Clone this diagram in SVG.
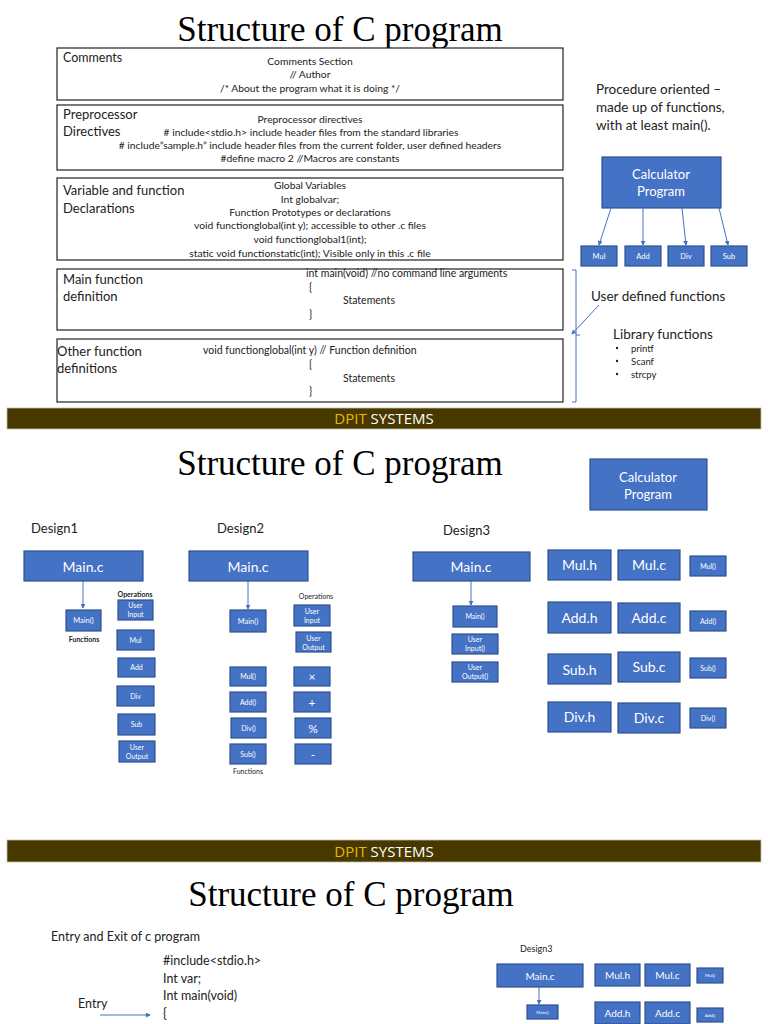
<svg xmlns="http://www.w3.org/2000/svg" width="768" height="1024" viewBox="0 0 768 1024">
<defs>
<marker id="ah" viewBox="0 0 6 6" refX="5" refY="3" markerWidth="5" markerHeight="5" orient="auto"><path d="M0,0 L6,3 L0,6 z" fill="#4472C4"/></marker>
<style>
.title{font-family:"Liberation Serif",serif;font-size:35px;fill:#000}
.t{font-family:Lato,"Open Sans",sans-serif;fill:#222}
.sec{fill:#fff;stroke:#222;stroke-width:1.2}
.b{fill:#4472C4;stroke:#2F528F;stroke-width:1.2}
.w{font-family:Lato,"Open Sans",sans-serif;fill:#fff;text-anchor:middle}
.c{text-anchor:middle}
.ln{stroke:#4472C4;stroke-width:1;fill:none}
.ban{fill:#473800;stroke:#c8c0a0;stroke-width:0.8}
.bt{font-family:"Open Sans",sans-serif;font-size:15px;text-anchor:middle}
</style>
</defs>
<rect width="768" height="1024" fill="#fff"/>

<!-- ===== Section 1 ===== -->
<text class="title" x="340" y="41" text-anchor="middle">Structure of C program</text>

<g id="comments">
<rect class="sec" x="57" y="48" width="506" height="52"/>
<text class="t" x="63" y="62" font-size="12.5">Comments</text>
<text class="t c" x="310" y="65" font-size="10.3">Comments Section</text>
<text class="t c" x="310" y="78" font-size="10.3">// Author</text>
<text class="t c" x="310" y="92" font-size="10.3">/* About the program what it is doing */</text>
</g>

<g id="preprocessor">
<rect class="sec" x="57" y="105" width="506" height="65"/>
<text class="t" x="63" y="119" font-size="13">Preprocessor</text>
<text class="t" x="63" y="136" font-size="13">Directives</text>
<text class="t c" x="310" y="123" font-size="10.3">Preprocessor directives</text>
<text class="t c" x="311" y="136" font-size="10.3"># include&lt;stdio.h&gt; include header files from the standard libraries</text>
<text class="t c" x="310" y="149" font-size="10.3"># include”sample.h” include header files from the current folder, user defined headers</text>
<text class="t c" x="310" y="162" font-size="10.3">#define macro 2 //Macros are constants</text>
</g>

<g id="declarations">
<rect class="sec" x="57" y="178" width="506" height="82"/>
<text class="t" x="63" y="195" font-size="13">Variable and function</text>
<text class="t" x="63" y="213" font-size="13">Declarations</text>
<text class="t c" x="310" y="189" font-size="10.3">Global Variables</text>
<text class="t c" x="310" y="203" font-size="10.3">Int globalvar;</text>
<text class="t c" x="310" y="216" font-size="10.3">Function Prototypes or declarations</text>
<text class="t c" x="310" y="229" font-size="10.3">void functionglobal(int y); accessible to other .c files</text>
<text class="t c" x="310" y="243" font-size="10.3">void functionglobal1(int);</text>
<text class="t c" x="310" y="257" font-size="10.3">static void functionstatic(int); Visible only in this .c file</text>
</g>

<g id="main-def">
<rect class="sec" x="57" y="269" width="506" height="61"/>
<text class="t" x="63" y="284" font-size="13">Main function</text>
<text class="t" x="63" y="301" font-size="13">definition</text>
<text class="t" x="306" y="277" font-size="10.5">int main(void) //no command line arguments</text>
<text class="t" x="309" y="291" font-size="10.5">{</text>
<text class="t" x="343" y="304" font-size="10.5">Statements</text>
<text class="t" x="309" y="318" font-size="10.5">}</text>
</g>

<g id="other-def">
<rect class="sec" x="57" y="339" width="506" height="63"/>
<text class="t" x="57" y="356" font-size="13">Other function</text>
<text class="t" x="57" y="373" font-size="13">definitions</text>
<text class="t" x="203" y="354" font-size="10.5">void functionglobal(int y) // Function definition</text>
<text class="t" x="309" y="368" font-size="10.5">{</text>
<text class="t" x="343" y="382" font-size="10.5">Statements</text>
<text class="t" x="309" y="395" font-size="10.5">}</text>
</g>

<g id="procedure-note">
<text class="t" x="596" y="94" font-size="13.5">Procedure oriented –</text>
<text class="t" x="596" y="112" font-size="13.5">made up of functions,</text>
<text class="t" x="596" y="130" font-size="13.5">with at least main().</text>
</g>

<g id="calc1">
<rect class="b" x="602" y="157" width="119" height="51"/>
<text class="w" x="661" y="179" font-size="13">Calculator</text>
<text class="w" x="661" y="196" font-size="13">Program</text>
</g>
<g id="mul1"><rect class="b" x="581" y="246" width="36" height="20"/><text class="w" x="599" y="259" font-size="7.5">Mul</text></g>
<g id="add1"><rect class="b" x="625" y="246" width="36" height="20"/><text class="w" x="643" y="259" font-size="7.5">Add</text></g>
<g id="div1"><rect class="b" x="668" y="246" width="36" height="20"/><text class="w" x="686" y="259" font-size="7.5">Div</text></g>
<g id="sub1"><rect class="b" x="711" y="246" width="36" height="20"/><text class="w" x="729" y="259" font-size="7.5">Sub</text></g>

<g id="user-defined">
<text class="t" x="591" y="301" font-size="13.5">User defined functions</text>
</g>
<g id="library">
<text class="t" x="613" y="339" font-size="13.5">Library functions</text>
<circle cx="617" cy="348" r="1.2" fill="#222"/>
<circle cx="617" cy="361" r="1.2" fill="#222"/>
<circle cx="617" cy="374" r="1.2" fill="#222"/>
<text class="t" x="631" y="352" font-size="9.5">printf</text>
<text class="t" x="631" y="365" font-size="9.5">Scanf</text>
<text class="t" x="631" y="378" font-size="9.5">strcpy</text>
</g>

<g id="connectors">
<line class="ln" x1="611" y1="208" x2="599" y2="245" marker-end="url(#ah)"/>
<line class="ln" x1="643" y1="208" x2="643" y2="245" marker-end="url(#ah)"/>
<line class="ln" x1="682" y1="208" x2="686" y2="245" marker-end="url(#ah)"/>
<line class="ln" x1="719" y1="208" x2="728" y2="245" marker-end="url(#ah)"/>
<path class="ln" d="M572,270 H576 V402 H572 M576,335 H580"/>
<line class="ln" x1="599" y1="305" x2="572" y2="334" marker-end="url(#ah)"/>
<line class="ln" x1="83" y1="581" x2="83" y2="608" marker-end="url(#ah)"/>
<line class="ln" x1="248" y1="581" x2="248" y2="609" marker-end="url(#ah)"/>
<line class="ln" x1="471" y1="581" x2="471" y2="605" marker-end="url(#ah)"/>
<line class="ln" x1="539" y1="987" x2="539" y2="1004" marker-end="url(#ah)"/>
<line class="ln" x1="100" y1="1015" x2="150" y2="1015" marker-end="url(#ah)"/>
</g>

<g id="banner1">
<rect class="ban" x="7" y="408" width="754" height="21"/>
<text class="bt" x="384" y="424"><tspan fill="#E6B800">DPIT</tspan><tspan fill="#fff"> SYSTEMS</tspan></text>
</g>

<!-- ===== Section 2 ===== -->
<text class="title" x="340" y="475" text-anchor="middle">Structure of C program</text>

<g id="calc2">
<rect class="b" x="590" y="459" width="117" height="51"/>
<text class="w" x="648" y="482" font-size="13">Calculator</text>
<text class="w" x="648" y="499" font-size="13">Program</text>
</g>

<!-- Design1 -->
<text class="t" x="31" y="533" font-size="13">Design1</text>
<g id="d1-main"><rect class="b" x="24" y="551" width="119" height="30"/><text class="w" x="83" y="572" font-size="14">Main.c</text></g>
<g id="d1-mainf"><rect class="b" x="66" y="610" width="35" height="21"/><text class="w" x="83.5" y="623" font-size="7.5">Main()</text></g>
<text class="t c" x="84" y="642" font-size="7" font-weight="bold">Functions</text>
<text class="t c" x="135" y="597" font-size="7" font-weight="bold">Operations</text>
<g id="d1-ui"><rect class="b" x="118" y="600" width="35" height="20"/><text class="w" x="135.5" y="608" font-size="7">User</text><text class="w" x="135.5" y="617" font-size="7">Input</text></g>
<g id="d1-mul"><rect class="b" x="117" y="630" width="37" height="20"/><text class="w" x="135.5" y="643" font-size="7">Mul</text></g>
<g id="d1-add"><rect class="b" x="118" y="658" width="37" height="19"/><text class="w" x="136.5" y="670" font-size="7">Add</text></g>
<g id="d1-div"><rect class="b" x="117" y="686" width="37" height="20"/><text class="w" x="135.5" y="699" font-size="7">Div</text></g>
<g id="d1-sub"><rect class="b" x="118" y="714" width="37" height="21"/><text class="w" x="136.5" y="727" font-size="7">Sub</text></g>
<g id="d1-uo"><rect class="b" x="119" y="741" width="36" height="21"/><text class="w" x="137" y="750" font-size="7">User</text><text class="w" x="137" y="759" font-size="7">Output</text></g>

<!-- Design2 -->
<text class="t" x="217" y="533" font-size="13">Design2</text>
<g id="d2-main"><rect class="b" x="189" y="551" width="119" height="30"/><text class="w" x="248" y="572" font-size="14">Main.c</text></g>
<g id="d2-mainf"><rect class="b" x="230" y="610" width="36" height="22"/><text class="w" x="248" y="624" font-size="7.5">Main()</text></g>
<text class="t c" x="316" y="599" font-size="7">Operations</text>
<g id="d2-ui"><rect class="b" x="294" y="605" width="36" height="21"/><text class="w" x="312" y="614" font-size="7">User</text><text class="w" x="312" y="623" font-size="7">Input</text></g>
<g id="d2-uo"><rect class="b" x="296" y="632" width="35" height="20"/><text class="w" x="313.5" y="641" font-size="7">User</text><text class="w" x="313.5" y="650" font-size="7">Output</text></g>
<g id="d2-mul"><rect class="b" x="230" y="667" width="36" height="19"/><text class="w" x="248" y="679" font-size="7">Mul()</text></g>
<g id="d2-add"><rect class="b" x="230" y="692" width="36" height="20"/><text class="w" x="248" y="705" font-size="7">Add()</text></g>
<g id="d2-div"><rect class="b" x="231" y="718" width="35" height="20"/><text class="w" x="248.5" y="731" font-size="7">Div()</text></g>
<g id="d2-sub"><rect class="b" x="230" y="744" width="36" height="20"/><text class="w" x="248" y="757" font-size="7">Sub()</text></g>
<text class="t c" x="248" y="774" font-size="7">Functions</text>
<g id="d2-x"><rect class="b" x="294" y="667" width="36" height="19"/><text class="w" x="312" y="681" font-size="12">×</text></g>
<g id="d2-plus"><rect class="b" x="294" y="692" width="36" height="20"/><text class="w" x="312" y="707" font-size="12">+</text></g>
<g id="d2-pct"><rect class="b" x="295" y="718" width="36" height="20"/><text class="w" x="313" y="733" font-size="12">%</text></g>
<g id="d2-minus"><rect class="b" x="295" y="744" width="36" height="20"/><text class="w" x="313" y="759" font-size="12">-</text></g>

<!-- Design3 -->
<text class="t" x="443" y="535" font-size="13">Design3</text>
<g id="d3-main"><rect class="b" x="413" y="552" width="117" height="29"/><text class="w" x="471" y="572" font-size="14">Main.c</text></g>
<g id="d3-mainf"><rect class="b" x="453" y="606" width="44" height="21"/><text class="w" x="475" y="619" font-size="7">Main()</text></g>
<g id="d3-ui"><rect class="b" x="452" y="634" width="46" height="20"/><text class="w" x="475" y="642" font-size="7">User</text><text class="w" x="475" y="651" font-size="7">Input()</text></g>
<g id="d3-uo"><rect class="b" x="452" y="662" width="46" height="20"/><text class="w" x="475" y="670" font-size="7">User</text><text class="w" x="475" y="679" font-size="7">Output()</text></g>
<g id="d3-mulh"><rect class="b" x="548" y="550" width="63" height="30"/><text class="w" x="579.5" y="570" font-size="14">Mul.h</text></g>
<g id="d3-mulc"><rect class="b" x="618" y="550" width="62" height="30"/><text class="w" x="649" y="570" font-size="14">Mul.c</text></g>
<g id="d3-mulf"><rect class="b" x="690" y="556" width="36" height="20"/><text class="w" x="708" y="569" font-size="7">Mul()</text></g>
<g id="d3-addh"><rect class="b" x="548" y="602" width="63" height="31"/><text class="w" x="579.5" y="623" font-size="14">Add.h</text></g>
<g id="d3-addc"><rect class="b" x="618" y="603" width="62" height="30"/><text class="w" x="649" y="623" font-size="14">Add.c</text></g>
<g id="d3-addf"><rect class="b" x="690" y="611" width="36" height="20"/><text class="w" x="708" y="624" font-size="7">Add()</text></g>
<g id="d3-subh"><rect class="b" x="548" y="654" width="63" height="30"/><text class="w" x="579.5" y="675" font-size="14">Sub.h</text></g>
<g id="d3-subc"><rect class="b" x="618" y="652" width="62" height="30"/><text class="w" x="649" y="672" font-size="14">Sub.c</text></g>
<g id="d3-subf"><rect class="b" x="690" y="658" width="36" height="20"/><text class="w" x="708" y="671" font-size="7">Sub()</text></g>
<g id="d3-divh"><rect class="b" x="548" y="702" width="63" height="30"/><text class="w" x="579.5" y="722" font-size="14">Div.h</text></g>
<g id="d3-divc"><rect class="b" x="618" y="703" width="62" height="30"/><text class="w" x="649" y="723" font-size="14">Div.c</text></g>
<g id="d3-divf"><rect class="b" x="690" y="708" width="36" height="20"/><text class="w" x="708" y="721" font-size="7">Div()</text></g>

<g id="banner2">
<rect class="ban" x="7" y="840" width="754" height="22"/>
<text class="bt" x="384" y="857"><tspan fill="#E6B800">DPIT</tspan><tspan fill="#fff"> SYSTEMS</tspan></text>
</g>

<!-- ===== Section 3 ===== -->
<text class="title" x="351" y="906" text-anchor="middle">Structure of C program</text>
<text class="t" x="51" y="941" font-size="12.5">Entry and Exit of c program</text>
<g id="code">
<text class="t" x="163" y="965" font-size="12.5">#include&lt;stdio.h&gt;</text>
<text class="t" x="163" y="983" font-size="12.5">Int var;</text>
<text class="t" x="163" y="1000" font-size="12.5">Int main(void)</text>
<text class="t" x="163" y="1018" font-size="12.5">{</text>
</g>
<g id="entry"><text class="t" x="78" y="1008" font-size="12.5">Entry</text></g>

<text class="t" x="520" y="952" font-size="9">Design3</text>
<g id="s3-main"><rect class="b" x="497" y="964" width="86" height="23"/><text class="w" x="540" y="980" font-size="10">Main.c</text></g>
<g id="s3-mainf"><rect class="b" x="527" y="1005" width="31" height="14"/><text class="w" x="542.5" y="1014" font-size="4.5">Main()</text></g>
<g id="s3-mulh"><rect class="b" x="595" y="964" width="45" height="22"/><text class="w" x="617.5" y="979" font-size="10">Mul.h</text></g>
<g id="s3-mulc"><rect class="b" x="645" y="964" width="45" height="22"/><text class="w" x="667.5" y="979" font-size="10">Mul.c</text></g>
<g id="s3-mulf"><rect class="b" x="697" y="968" width="26" height="15"/><text class="w" x="710" y="977" font-size="4.5">Mul()</text></g>
<g id="s3-addh"><rect class="b" x="595" y="1002" width="45" height="22"/><text class="w" x="617.5" y="1017" font-size="10">Add.h</text></g>
<g id="s3-addc"><rect class="b" x="645" y="1002" width="45" height="22"/><text class="w" x="667.5" y="1017" font-size="10">Add.c</text></g>
<g id="s3-addf"><rect class="b" x="697" y="1008" width="26" height="14"/><text class="w" x="710" y="1017" font-size="4.5">Add()</text></g>
</svg>
